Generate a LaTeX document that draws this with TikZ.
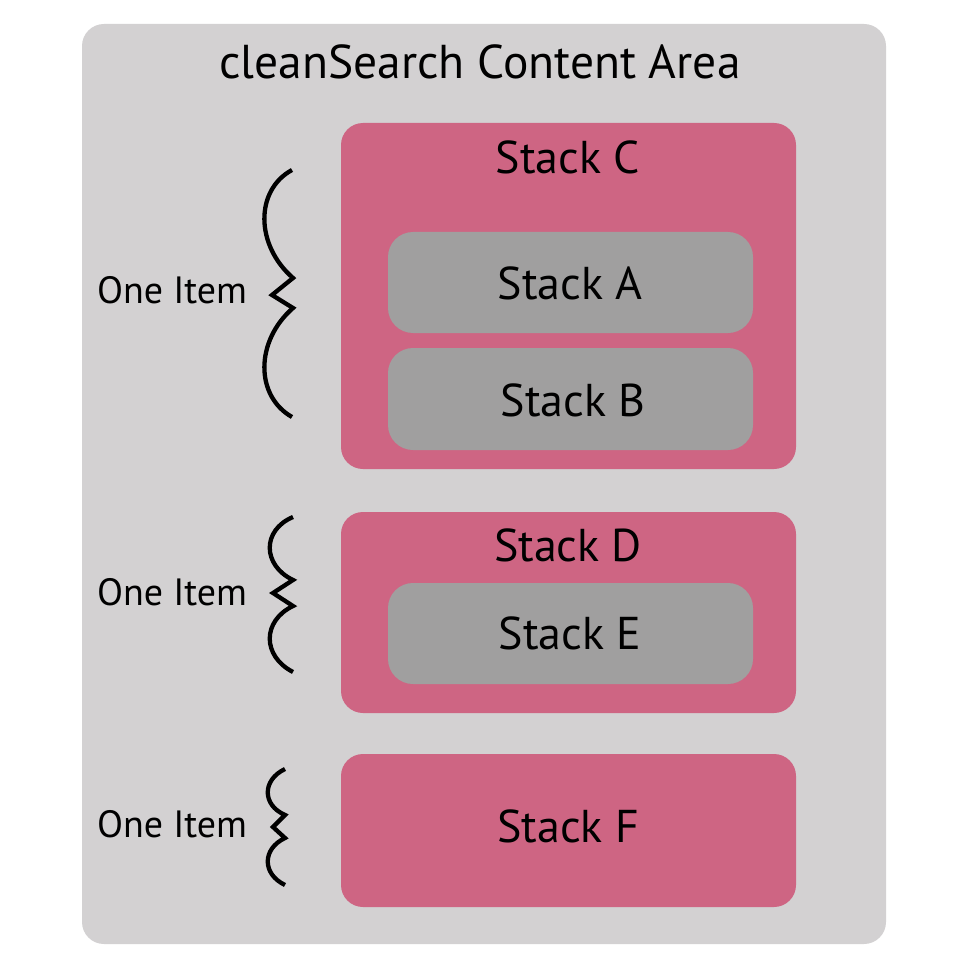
\documentclass[tikz,border=0pt]{standalone}
\usepackage{fontspec}
\setmainfont{PT Sans}
\definecolor{areagrey}{HTML}{D3D1D2}
\definecolor{stackpink}{HTML}{CE6583}
\definecolor{stackgrey}{HTML}{A09F9F}
\begin{document}
\begin{tikzpicture}[x=1pt,y=-1pt,
  box/.style={rounded corners=22pt,inner sep=0pt,outer sep=0pt},
  outerbox/.style={box,fill=areagrey},
  pinkbox/.style={box,fill=stackpink},
  greybox/.style={box,fill=stackgrey,rounded corners=25pt},
  lbl/.style={font=\fontsize{46}{50}\selectfont,inner sep=0pt},
  titlelbl/.style={font=\fontsize{47.5}{52}\selectfont,inner sep=0pt},
  side/.style={font=\fontsize{38}{42}\selectfont,inner sep=0pt},
  brace/.style={line width=4.3pt,line join=miter}]
\useasboundingbox[fill=white] (0,0) rectangle (968,968);
\fill[outerbox] (82,24) rectangle (886,944);
\node[titlelbl] (title) at (480,62) {cleanSearch Content Area};
% Stack C
\fill[pinkbox] (341,123) rectangle (796,469);
\node[lbl] (c) at (568,157) {Stack C};
\fill[greybox] (388,232) rectangle (753,333);
\node[lbl] (a) at (570,283) {Stack A};
\fill[greybox] (388,348) rectangle (753,450);
\node[lbl] (b) at (573,400) {Stack B};
% Stack D
\fill[pinkbox] (341,512) rectangle (796,713);
\node[lbl] (d) at (568,545) {Stack D};
\fill[greybox] (388,583) rectangle (753,684);
\node[lbl] (e) at (570,633) {Stack E};
% Stack F
\fill[pinkbox] (341,754) rectangle (796,907);
\node[lbl] (f) at (568,826) {Stack F};
% side labels
\node[side] (i1) at (172,290) {One Item};
\node[side] (i2) at (172,592) {One Item};
\node[side] (i3) at (172,824) {One Item};
% braces
\draw[brace] (292,170) .. controls (255,190) and (255,245) .. (293,278)
  -- (272,295) -- (293,308) .. controls (255,341) and (255,396) .. (292,417);
\draw[brace] (293,517) .. controls (262,530) and (262,565) .. (293,580)
  -- (273,593) -- (293,606) .. controls (262,621) and (262,656) .. (293,672);
\draw[brace] (285,769) .. controls (262,780) and (262,805) .. (285,815)
  -- (273,827) -- (285,838) .. controls (262,849) and (262,874) .. (285,885);
\end{tikzpicture}
\end{document}
